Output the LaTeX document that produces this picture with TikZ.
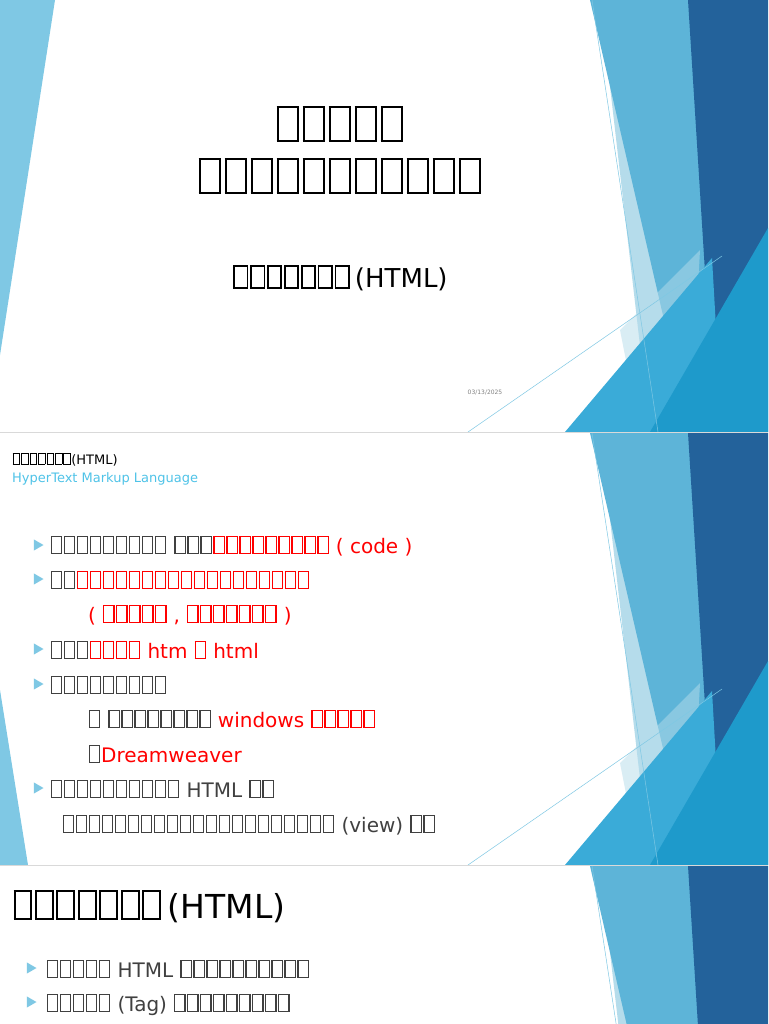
\documentclass[tikz,border=0pt]{standalone}
\usepackage{fontspec}
\setmainfont{DejaVu Sans}
\usetikzlibrary{shapes.geometric}
\newcount\tbc
\newcommand\tf{{\fboxsep=0pt\fboxrule=0.06em\kern0.04em\fbox{\rule{0pt}{0.78em}\kern0.45em}\kern0.04em}}
\newcommand\tb[1]{\tbc=0 \loop\ifnum\tbc<#1 \tf\advance\tbc 1 \repeat}
\definecolor{lb}{HTML}{7FC8E4}
\definecolor{hb}{HTML}{4FC3E8}
\definecolor{mb}{HTML}{5DB4D8}
\definecolor{db}{HTML}{23629B}
\definecolor{tb}{HTML}{1E9ACB}
\definecolor{tl}{HTML}{3AABD8}
\definecolor{pb}{HTML}{B5DCEB}
\definecolor{tx}{HTML}{404040}
\definecolor{rd}{HTML}{FF0000}
\newcommand\deco{%
  \fill[pb] (600,0)--(690,0)--(690,432)--(650,432)--cycle;
  \fill[mb] (590,0)--(700,0)--(720,432)--(690,432)--cycle;
  \fill[db] (688,0)--(768,0)--(768,432)--(715,432)--cycle;
  \fill[pb,opacity=0.5] (620,330)--(700,250)--(690,432)--(640,432)--cycle;
  \fill[tl] (565,432)--(712,258)--(722,432)--cycle;
  \fill[tb] (650,432)--(768,228)--(768,432)--cycle;
  \draw[lb,line width=0.5] (592,0)--(658,432);
  \draw[lb,line width=0.5] (468,432)--(722,256);
}
\tikzset{bul/.style={fill=lb,regular polygon,regular polygon sides=3,shape border rotate=-90,inner sep=0,minimum size=13},
 t20/.style={anchor=base west,inner sep=0,font=\fontsize{20}{24}\selectfont,text=tx}}
\begin{document}
\begin{tikzpicture}[x=1pt,y=-1pt]
\useasboundingbox (0,0) rectangle (768,1024);
\fill[white] (0,0) rectangle (768,1024);
\clip (0,0) rectangle (768,1024);
% slide 1
\begin{scope}\deco\end{scope}
\fill[lb] (0,0)--(55,0)--(0,355)--cycle;
\node[inner sep=0,font=\fontsize{40}{48}\selectfont,align=center] (t1) at (340,150) {\tb{5}\\[4pt]\tb{11}};
\node[anchor=base,inner sep=0,font=\fontsize{26}{30}\selectfont] (t2) at (340,287) {\tb{7}\,(HTML)};
\node[anchor=base,inner sep=0,font=\fontsize{6}{7}\selectfont,text=gray] (d) at (485,394) {03/13/2025};
\draw[gray!30,line width=0.5] (0,432)--(768,432);
% slide 2
\begin{scope}[yshift=-433]\deco\end{scope}
\fill[lb] (0,690)--(0,865)--(28,865)--cycle;
\node[anchor=base west,inner sep=0,font=\fontsize{13}{15}\selectfont] (h1) at (12,464) {\tb{7}(HTML)};
\node[anchor=base west,inner sep=0,font=\fontsize{13}{15}\selectfont,text=hb] (h2) at (12,482) {HyperText Markup Language};
\node[bul] (b1) at (37,545) {};\node[bul] (b2) at (37,579) {};\node[bul] (b3) at (37,649) {};\node[bul] (b4) at (37,684) {};\node[bul] (b5) at (37,788) {};
\node[t20] (l1) at (50,553) {\tb{9} \tb{3}\textcolor{rd}{\tb{9} ( code )}};
\node[t20] (l2) at (50,588) {\tb{2}\textcolor{rd}{\tb{18}}};
\node[t20,text=rd] (l3) at (88,622) {( \tb{5} ,  \tb{7} )};
\node[t20] (l4) at (50,658) {\tb{3}\textcolor{rd}{\tb{4} htm \tf{}  html}};
\node[t20] (l5) at (50,693) {\tb{9}};
\node[t20] (l6) at (88,727) {\tf{} \tb{8} \textcolor{rd}{windows \tb{5}}};
\node[t20] (l7) at (88,762) {\tf\textcolor{rd}{Dreamweaver}};
\node[t20] (l8) at (50,797) {\tb{10} HTML \tb{2}};
\node[t20] (l9) at (62,832) {\tb{21} (view) \tb{2}};
\draw[gray!30,line width=0.5] (0,865)--(768,865);
% slide 3
\begin{scope}[yshift=-866]\deco\end{scope}
\node[anchor=base west,inner sep=0,font=\fontsize{33}{38}\selectfont] (h3) at (12,918) {\tb{7}\,(HTML)};
\node[bul] (c1) at (30,968) {};\node[bul] (c2) at (30,1002) {};
\node[t20] (k1) at (46,977) {\tb{5} HTML \tb{10}};
\node[t20] (k2) at (46,1011) {\tb{5} (Tag) \tb{9}};
\end{tikzpicture}
\end{document}
